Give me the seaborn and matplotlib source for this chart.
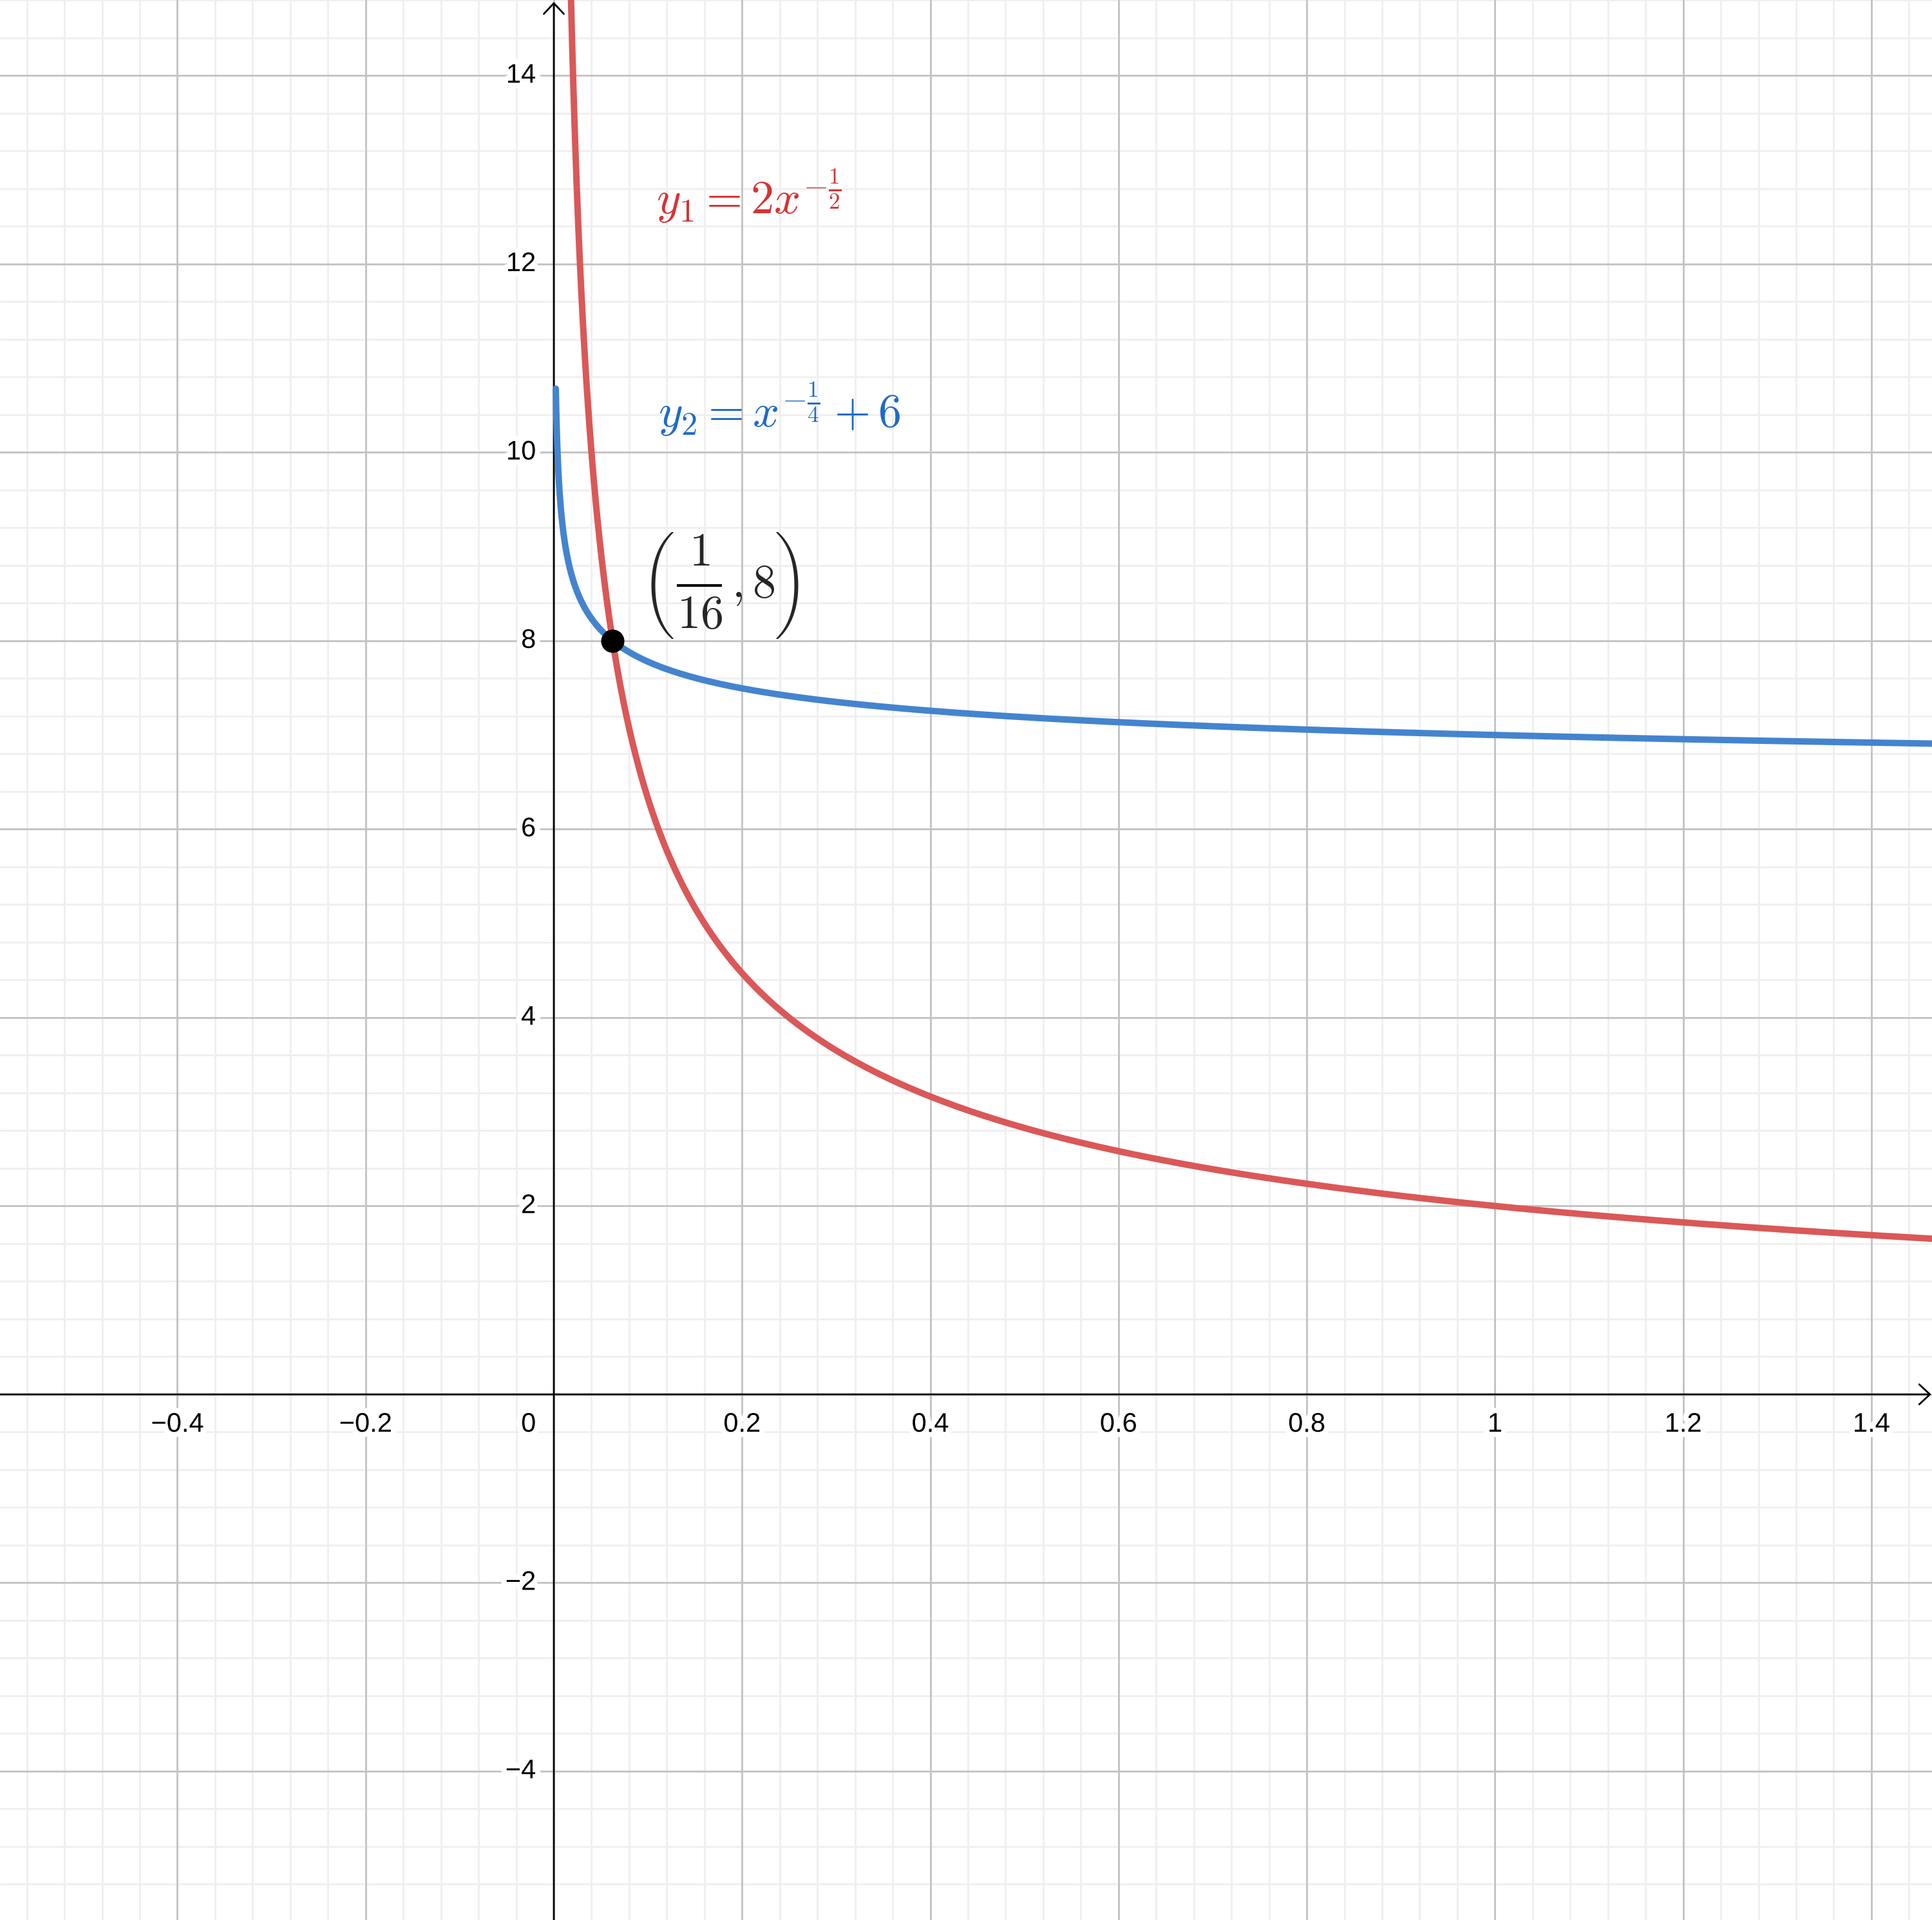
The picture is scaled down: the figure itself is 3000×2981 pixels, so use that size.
import os
import numpy as np
import pandas as pd
import matplotlib
matplotlib.use("Agg")
import matplotlib.pyplot as plt
import matplotlib.patheffects as pe
from matplotlib.font_manager import FontProperties
import seaborn as sns

# ---------------- data ----------------
# curves as labelled in the chart: y1 = 2 x^(-1/2), y2 = x^(-1/4) + 6
y1_x = np.geomspace(0.0175, 1.47, 600)
y1_y = 2 * y1_x ** (-0.5)
y2_x = np.geomspace(0.00209, 1.47, 600)
y2_y = y2_x ** (-0.25) + 6

point_x = [1 / 16]
point_y = [8]

x_ticks = [-0.4, -0.2, 0.2, 0.4, 0.6, 0.8, 1.0, 1.2, 1.4]
x_tick_labels = ["\u22120.4", "\u22120.2", "0.2", "0.4", "0.6", "0.8", "1", "1.2", "1.4"]
y_ticks = [-4, -2, 2, 4, 6, 8, 10, 12, 14]
y_tick_labels = ["\u22124", "\u22122", "2", "4", "6", "8", "10", "12", "14"]

label_y1 = r"$y_1 = 2x^{-\frac{1}{2}}$"
label_y2 = r"$y_2 = x^{-\frac{1}{4}} + 6$"
pt_num, pt_den, pt_y = "1", "16", "8"

# ---------------- style ----------------
sns.set_style("white")
plt.rcParams["font.family"] = ["Liberation Sans", "DejaVu Sans"]
plt.rcParams["mathtext.fontset"] = "cm"

XMIN, XMAX = -0.5885, 1.4644
YMIN, YMAX = -5.580, 14.803
W, H = 3000, 2981

fig = plt.figure(figsize=(15, 14.905), dpi=200)
ax = fig.add_axes([0, 0, 1, 1])
ax.set_xlim(XMIN, XMAX)
ax.set_ylim(YMIN, YMAX)
for s in ax.spines.values():
    s.set_visible(False)
ax.set_xticks([])
ax.set_yticks([])


def px(xp, yp):
    """pixel position in the picture -> data coordinates"""
    return (XMIN + xp / W * (XMAX - XMIN), YMAX - yp / H * (YMAX - YMIN))


# grid
minor_x = np.arange(-0.56, 1.47, 0.04)
minor_y = np.arange(-5.6, 14.9, 0.4)
for v in minor_x:
    ax.axvline(v, color="#EFEFEF", lw=1.0, zorder=0)
for v in minor_y:
    ax.axhline(v, color="#EFEFEF", lw=1.0, zorder=0)
major_x = np.arange(-0.4, 1.47, 0.2)
major_y = np.arange(-4, 14.9, 2)
for v in major_x:
    ax.axvline(v, color="#C2C2C2", lw=1.0, zorder=0.5)
for v in major_y:
    ax.axhline(v, color="#C2C2C2", lw=1.0, zorder=0.5)

# axes with open arrows
arrow = dict(arrowstyle="->,head_length=0.3,head_width=0.28", lw=1.0,
             color="black", mutation_scale=20, shrinkA=0, shrinkB=0)
ax.annotate("", xy=(XMAX - 0.0008, 0), xytext=(XMIN, 0), arrowprops=arrow, zorder=2)
ax.annotate("", xy=(0, YMAX - 0.02), xytext=(0, YMIN), arrowprops=arrow, zorder=2)

halo = [pe.withStroke(linewidth=6, foreground="white")]
# tick labels
for v, t in zip(x_ticks, x_tick_labels):
    ax.annotate(t, xy=(v, 0), xytext=(0, -9.7), textcoords="offset points",
                ha="center", va="top", fontsize=15, color="black",
                path_effects=halo, zorder=3)
for v, t in zip(y_ticks, y_tick_labels):
    ax.annotate(t, xy=(0, v), xytext=(-10, 0), textcoords="offset points",
                ha="right", va="center", fontsize=15, color="black",
                path_effects=halo, zorder=3)
ax.annotate("0", xy=(0, 0), xytext=(-10, -9.7), textcoords="offset points",
            ha="right", va="top", fontsize=15, color="black",
            path_effects=halo, zorder=3)

# curves
df1 = pd.DataFrame({"x": y1_x, "y": y1_y})
df2 = pd.DataFrame({"x": y2_x, "y": y2_y})
sns.lineplot(data=df2, x="x", y="y", ax=ax, color="#4484CE", lw=3.6,
             sort=False, estimator=None, solid_capstyle="round", zorder=4)
sns.lineplot(data=df1, x="x", y="y", ax=ax, color="#DA5858", lw=3.6,
             sort=False, estimator=None, solid_capstyle="round", zorder=4)
ax.set_xlim(XMIN, XMAX)
ax.set_ylim(YMIN, YMAX)
ax.set_xlabel("")
ax.set_ylabel("")

# intersection point
sns.scatterplot(x=point_x, y=point_y, ax=ax, s=13 ** 2, color="black",
                edgecolor="black", linewidth=0, zorder=6)

# function labels
ax.text(*px(1019, 332), label_y1, color="#D63333", fontsize=26,
        ha="left", va="baseline", zorder=5)
ax.text(*px(1022, 663), label_y2, color="#1E6BC6", fontsize=26,
        ha="left", va="baseline", zorder=5)

# point label  ( 1/16 , 8 ) set like TeX display style, with \bigg parens
cmex_path = os.path.join(matplotlib.get_data_path(), "fonts", "ttf", "cmex10.ttf")
cmex = FontProperties(fname=cmex_path, size=25)
ax.text(*px(996, 909), "\xb5", fontproperties=cmex, ha="left", va="center",
        zorder=5)
ax.text(*px(1254, 909), "\xb6", fontproperties=cmex, ha="right", va="center",
        zorder=5)
ax.text(*px(1086, 878), "$" + pt_num + "$", fontsize=26, ha="center",
        va="baseline", zorder=5)
ax.text(*px(1087, 975), "$" + pt_den + "$", fontsize=26, ha="center",
        va="baseline", zorder=5)
bx0, by = px(1051, 909)
bx1, _ = px(1121, 909)
ax.plot([bx0, bx1], [by, by], color="black", lw=1.5, solid_capstyle="butt",
        zorder=5)
ax.text(*px(1136, 927), r"$,$", fontsize=26, ha="left", va="baseline", zorder=5)
ax.text(*px(1168, 927), "$" + pt_y + "$", fontsize=26, ha="left",
        va="baseline", zorder=5)

fig.savefig("out.png", dpi=200)
